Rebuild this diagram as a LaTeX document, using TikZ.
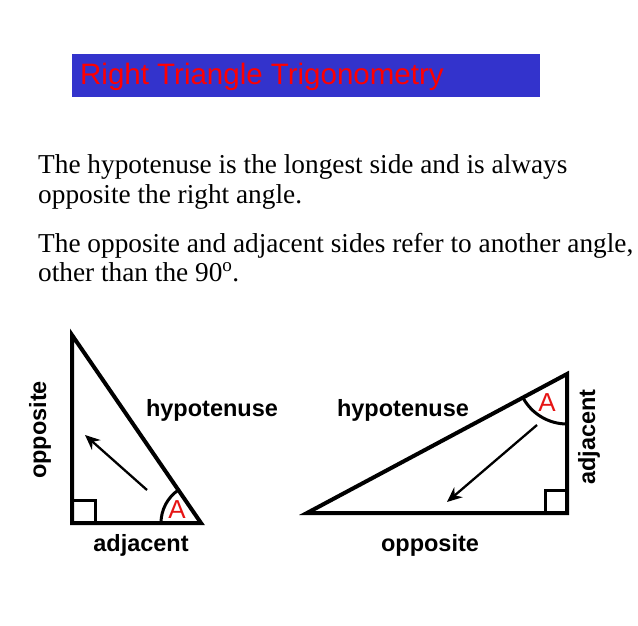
\documentclass[tikz,border=0pt]{standalone}
\usepackage{fontspec}
\setmainfont{Liberation Serif}
\setsansfont{Liberation Sans}
\usetikzlibrary{arrows.meta}
\definecolor{banner}{RGB}{51,51,204}
\definecolor{ared}{RGB}{230,20,20}
\begin{document}
\begin{tikzpicture}[x=1pt,y=-1pt,
  side/.style={line width=4pt,line join=miter},
  lbl/.style={font=\sffamily\bfseries\fontsize{23.5}{26}\selectfont,inner sep=0},
  body/.style={font=\fontsize{27.3}{30}\selectfont,anchor=base west,inner sep=0},
  albl/.style={text=ared,font=\sffamily\fontsize{26}{28}\selectfont,inner sep=0},
  arr/.style={line width=2.3pt,-{Stealth[length=15pt,width=13pt]}}]
\useasboundingbox (0,0) rectangle (638,626);
\fill[white] (0,0) rectangle (638,626);
\fill[banner] (72,54) rectangle (540,97);
\node[anchor=west,inner sep=0,text=red,font=\sffamily\fontsize{29.5}{32}\selectfont] (title) at (80,77) {Right Triangle Trigonometry};
\node[body] (t1) at (38,173) {The hypotenuse is the longest side and is always};
\node[body] (t2) at (38,203) {opposite the right angle.};
\node[body] (t3) at (38,252) {The opposite and adjacent sides refer to another angle,};
\node[body] (t4) at (38,281) {other than the 90\textsuperscript{o}.};
% left triangle
\coordinate (L1) at (72,335); \coordinate (L2) at (72,523); \coordinate (L3) at (201,523);
\draw[side] (L1) -- (L2) -- (L3) -- cycle;
\draw[line width=3pt] (72,500) -- (95,500) -- (95,523);
\draw[line width=3pt] (161,523) arc[start angle=180,end angle=235.5,radius=40];
\node[albl] (A1) at (177,510) {A};
\coordinate (la) at (147,490); \coordinate (lb) at (85,435);
\draw[arr] (la) -- (lb);
\node[lbl,rotate=90] (o1) at (40,430) {opposite};
\node[lbl] (h1) at (212,410) {hypotenuse};
\node[lbl] (a1) at (141,545) {adjacent};
% right triangle
\coordinate (R1) at (307,513); \coordinate (R2) at (567,513); \coordinate (R3) at (567,374);
\draw[side] (R1) -- (R2) -- (R3) -- cycle;
\draw[line width=3pt] (545,513) -- (545,490) -- (567,490);
\draw[line width=3pt] (567,424) arc[start angle=90,end angle=152,radius=50];
\node[albl] (A2) at (547,403) {A};
\coordinate (ra) at (537,425); \coordinate (rb) at (447,502);
\draw[arr] (ra) -- (rb);
\node[lbl] (h2) at (403,410) {hypotenuse};
\node[lbl,rotate=90] (a2) at (589,437) {adjacent};
\node[lbl] (o2) at (430,545) {opposite};
\end{tikzpicture}
\end{document}
